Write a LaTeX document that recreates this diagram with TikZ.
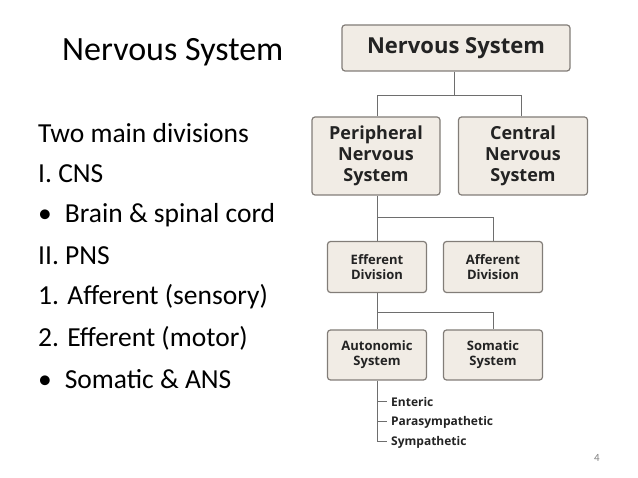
\documentclass[tikz,border=0pt]{standalone}
\usepackage{fontspec}
\setmainfont{Carlito}
\newfontfamily\boxfont{Open Sans}
\definecolor{boxfill}{RGB}{241,236,229}
\definecolor{boxline}{RGB}{130,125,120}
\definecolor{wire}{RGB}{110,110,110}
\definecolor{ink}{RGB}{35,35,35}
\begin{document}
\begin{tikzpicture}[x=1pt,y=-1pt,
  box/.style={draw=boxline, line width=1.2pt, fill=boxfill, rounded corners=3pt,
    inner sep=0pt, align=center, text=ink, font=\boxfont\bfseries},
  leaf/.style={anchor=west, inner sep=0pt, text=ink, font=\boxfont\bfseries\fontsize{12}{14}\selectfont},
  line/.style={draw=wire, line width=1pt},
  txt/.style={anchor=west, inner sep=0pt, font=\fontsize{27.5}{32}\selectfont}]
\useasboundingbox (0,0) rectangle (638,478);
% left text
\node[txt, font=\fontsize{34}{40}\selectfont] (title) at (62,52) {Nervous System};
\node[txt] (t1) at (38,133) {Two main divisions};
\node[txt] (t2) at (38,174) {I. CNS};
\node[txt] (t3) at (38,215) {\textbullet\hspace{13pt}Brain \& spinal cord};
\node[txt] (t4) at (38,256) {II. PNS};
\node[txt] (t5) at (38,297) {1. Afferent (sensory)};
\node[txt] (t6) at (38,338) {2. Efferent (motor)};
\node[txt] (t7) at (38,379) {\textbullet\hspace{13pt}Somatic \& ANS};
\node[anchor=center, text=gray, font=\fontsize{11}{13}\selectfont] (pg) at (597,458) {4};
% boxes
\node[box, minimum width=228pt, minimum height=46pt, font=\boxfont\bfseries\fontsize{22}{24}\selectfont] (ns) at (456,48) {Nervous System};
\node[box, minimum width=128pt, minimum height=78pt, font=\boxfont\bfseries\fontsize{18}{21}\selectfont] (pns) at (376,156) {Peripheral\\Nervous\\System};
\node[box, minimum width=129pt, minimum height=78pt, font=\boxfont\bfseries\fontsize{18}{21}\selectfont] (cns) at (523,156) {Central\\Nervous\\System};
\node[box, minimum width=99pt, minimum height=51pt, font=\boxfont\bfseries\fontsize{13}{15}\selectfont] (eff) at (377,267) {Efferent\\Division};
\node[box, minimum width=99pt, minimum height=51pt, font=\boxfont\bfseries\fontsize{13}{15}\selectfont] (aff) at (493,267) {Afferent\\Division};
\node[box, minimum width=99pt, minimum height=50pt, font=\boxfont\bfseries\fontsize{13}{15}\selectfont] (aut) at (377,355) {Autonomic\\System};
\node[box, minimum width=99pt, minimum height=50pt, font=\boxfont\bfseries\fontsize{13}{15}\selectfont] (som) at (493,355) {Somatic\\System};
\node[leaf] (ent) at (391,402) {Enteric};
\node[leaf] (para) at (391,422) {Parasympathetic};
\node[leaf] (sym) at (391,442) {Sympathetic};
% connectors
\coordinate (j1) at (454,96);
\draw[line] (ns.south -| j1) -- (j1);
\draw[line] (j1) -| (pns.north -| 377,0);
\draw[line] (j1) -| (cns.north -| 521,0);
\coordinate (j2) at (377,218);
\draw[line] (pns.south -| j2) -- (eff.north);
\draw[line] (j2) -| (aff.north);
\coordinate (j3) at (377,313);
\draw[line] (eff.south) -- (aut.north);
\draw[line] (j3) -| (som.north);
\draw[line] (aut.south) |- ([xshift=-4pt]sym.west);
\draw[line] (aut.south |- ent) -- ([xshift=-4pt]ent.west);
\draw[line] (aut.south |- para) -- ([xshift=-4pt]para.west);
\end{tikzpicture}
\end{document}
